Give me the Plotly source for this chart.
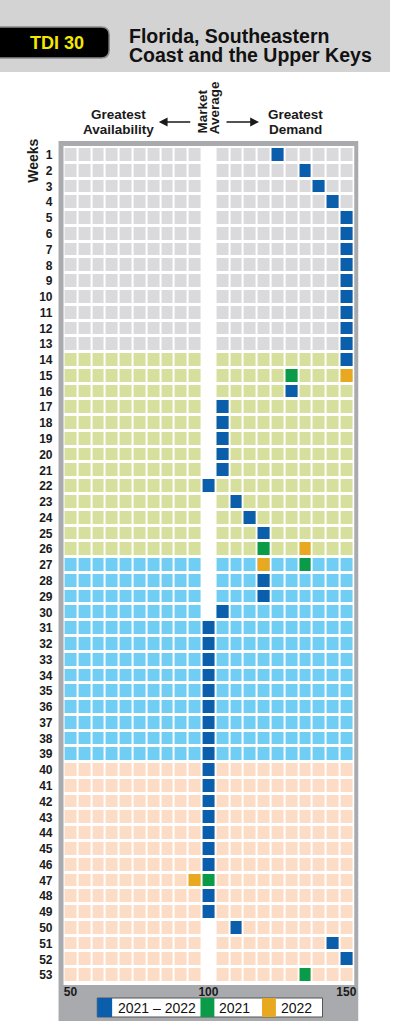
import plotly.graph_objects as go

W, H = 393, 1028

# ---------------- data ----------------
weeks = list(range(1, 54))
col_values = list(range(50, 155, 5))          # index positions, one column per 5 points
x_tick_values = [50, 100, 150]
x_tick_labels = ["50", "100", "150"]
market_average = 100

season_first_week = [1, 14, 27, 40]
season_colors = ["#dadadc", "#d6df9c", "#70cdf3", "#fddcc5"]

series_names = ["2021 \u2013 2022", "2021", "2022"]
series_colors = ["#0a5eac", "#0a9b49", "#e8a921"]

# 2021-2022 combined index per week (None = no combined mark)
index_2021_2022 = [125, 135, 140, 145, 150, 150, 150, 150, 150, 150,
                   150, 150, 150, 150, None, 130, 105, 105, 105, 105,
                   105, 100, 110, 115, 120, None, None, 120, 120, 105,
                   100, 100, 100, 100, 100, 100, 100, 100, 100, 100,
                   100, 100, 100, 100, 100, 100, None, 100, 100, 110,
                   145, 150, None]
weeks_2021 = [15, 26, 27, 47, 53]
index_2021 = [130, 120, 135, 100, 135]
weeks_2022 = [15, 26, 27, 47]
index_2022 = [150, 135, 120, 95]

# ---------------- helpers ----------------
def X(px):
    return px / W

def Y(py):
    return 1 - py / H

FONT = "Liberation Sans, Arial, sans-serif"

def season_code(w):
    code = 0
    for i, s in enumerate(season_first_week):
        if w >= s:
            code = i
    return code

z_bg = []
for w in weeks:
    row = []
    for v in col_values:
        row.append(None if v == market_average else season_code(w))
    z_bg.append(row)

z_mk = [[None for _ in col_values] for _ in weeks]
for wi, v in zip(weeks, index_2021_2022):
    if v is not None:
        z_mk[wi - 1][col_values.index(v)] = 0
for wi, v in zip(weeks_2021, index_2021):
    z_mk[wi - 1][col_values.index(v)] = 1
for wi, v in zip(weeks_2022, index_2022):
    z_mk[wi - 1][col_values.index(v)] = 2

def discrete_scale(colors):
    n = len(colors)
    return [[i / (n - 1), c] for i, c in enumerate(colors)]

fig = go.Figure()
fig.add_trace(go.Heatmap(
    x=col_values, y=weeks, z=z_bg, zmin=0, zmax=3,
    colorscale=discrete_scale(season_colors), showscale=False,
    xgap=2, ygap=3, hoverinfo="skip"))
fig.add_trace(go.Heatmap(
    x=col_values, y=weeks, z=z_mk, zmin=0, zmax=2,
    colorscale=discrete_scale(series_colors), showscale=False,
    xgap=2, ygap=3, hoverinfo="skip"))

shapes = []
shapes.append(dict(type="rect", xref="paper", yref="paper", x0=0, x1=1, y0=Y(72), y1=1,
                   fillcolor="#d3d3d3", line=dict(width=0), layer="below"))
shapes.append(dict(type="rect", xref="paper", yref="paper", x0=X(59), x1=X(361), y0=Y(1021), y1=Y(141),
                   fillcolor="#a8aaad", line=dict(width=0), layer="below"))
shapes.append(dict(type="rect", xref="paper", yref="paper", x0=X(64), x1=X(357), y0=Y(985), y1=Y(146),
                   fillcolor="#ffffff", line=dict(width=0), layer="below"))

def rounded(x0, y0, x1, y1, r):
    def P(x, y):
        return f"{X(x):.5f},{Y(y):.5f}"
    return (f"M {P(x0 + r, y0)} L {P(x1 - r, y0)} Q {P(x1, y0)} {P(x1, y0 + r)} "
            f"L {P(x1, y1 - r)} Q {P(x1, y1)} {P(x1 - r, y1)} L {P(x0 + r, y1)} "
            f"Q {P(x0, y1)} {P(x0, y1 - r)} L {P(x0, y0 + r)} Q {P(x0, y0)} {P(x0 + r, y0)} Z")

shapes.append(dict(type="path", xref="paper", yref="paper", path=rounded(-8, 27, 110, 58, 8),
                   fillcolor="#000000", line=dict(color="#8a8a8a", width=1.5)))

shapes.append(dict(type="rect", xref="paper", yref="paper", x0=X(98), x1=X(325), y0=Y(1017), y1=Y(998),
                   fillcolor="#ffffff", line=dict(color="#555555", width=1)))
legend_sq = [(98, 113), (202, 216), (264, 278)]
legend_txt_x = [117, 219, 281]
for (a, b), c in zip(legend_sq, series_colors):
    shapes.append(dict(type="rect", xref="paper", yref="paper", x0=X(a), x1=X(b), y0=Y(1017), y1=Y(998),
                       fillcolor=c, line=dict(width=0)))

ann = []
def text(x, y, s, size, color="#1a1a1a", anchor="center", bold=True, angle=0, family=FONT):
    ann.append(dict(xref="paper", yref="paper", x=X(x), y=Y(y), text=s, showarrow=False,
                    xanchor=anchor, yanchor="middle", textangle=angle,
                    font=dict(family=family, size=size, color=color, weight="bold" if bold else "normal")))

ann.append(dict(xref="paper", yref="paper", x=X(57), y=Y(43), showarrow=False, xanchor="center", yanchor="middle",
                text="TDI <b>30</b>",
                font=dict(family=FONT, size=18, color="#f4e800", weight="bold")))
text(128, 36, "Florida, Southeastern", 19.5, "#111111", "left", True)
text(128, 55, "Coast and the Upper Keys", 19.5, "#111111", "left", True)

text(119, 114, "Greatest", 13.5)
text(119, 129, "Availability", 13.5)
text(298, 114, "Greatest", 13.5)
text(298, 129, "Demand", 13.5)
text(204, 111, "Market", 13.5, angle=-90)
text(217, 108, "Average", 13.5, angle=-90)
text(33, 161, "Weeks", 14, angle=-90)

ann.append(dict(xref="paper", yref="paper", x=X(160), y=Y(122), ax=33, ay=0, text="", showarrow=True,
                arrowhead=2, arrowsize=1.1, arrowwidth=1.6, arrowcolor="#1a1a1a"))
ann.append(dict(xref="paper", yref="paper", x=X(261), y=Y(122), ax=-34, ay=0, text="", showarrow=True,
                arrowhead=2, arrowsize=1.1, arrowwidth=1.6, arrowcolor="#1a1a1a"))

for lx, name in zip(legend_txt_x, series_names):
    text(lx, 1008, name, 14, "#111111", "left", False)

fig.update_layout(
    width=W, height=H, margin=dict(l=0, r=0, t=0, b=0),
    paper_bgcolor="#ffffff", plot_bgcolor="rgba(0,0,0,0)",
    shapes=shapes, annotations=ann, showlegend=False,
    xaxis=dict(domain=[X(64), X(356)], range=[47.5, 152.5], tickvals=x_tick_values, ticktext=x_tick_labels,
               showgrid=False, zeroline=False, showline=False, ticks="", ticklabelstandoff=0,
               tickfont=dict(family=FONT, size=12, color="#1a1a1a", weight="bold"), fixedrange=True),
    yaxis=dict(domain=[Y(983), Y(147)], range=[53.5, 0.5], tickvals=weeks, ticktext=[str(w) for w in weeks],
               showgrid=False, zeroline=False, showline=False, ticks="", ticklabelstandoff=10,
               tickfont=dict(family=FONT, size=12, color="#1a1a1a", weight="bold"), fixedrange=True),
)

fig.write_html("out.html", config={"displayModeBar": False},
               post_script="document.body.style.margin='0';document.body.style.overflow='hidden';")
